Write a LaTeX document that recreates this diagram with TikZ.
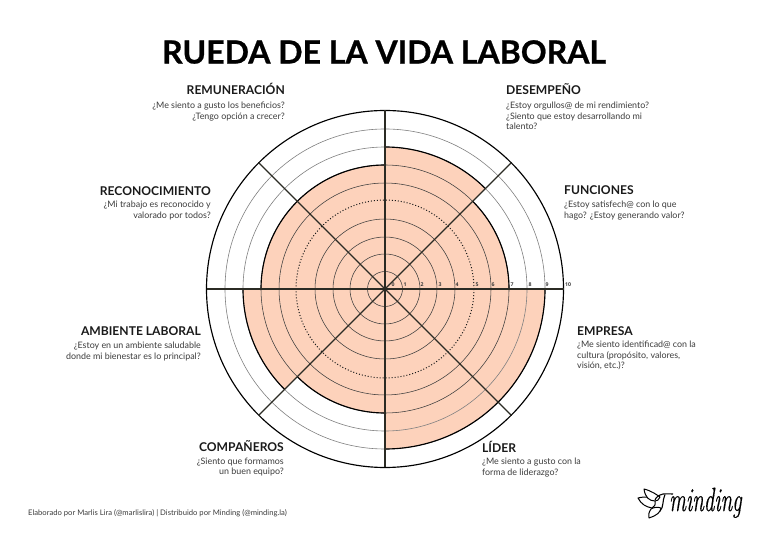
\documentclass[tikz,border=0pt]{standalone}
\usepackage{fontspec}
\setmainfont{Lato}
\newfontfamily\logofont[ItalicFeatures={FakeBold=0.5}]{Latin Modern Roman}
\newfontfamily\titlefont[BoldFeatures={FakeBold=0.7}]{Lato}
\newfontfamily\tickfont{Open Sans}
\definecolor{wedge}{HTML}{FDD2BB}
\definecolor{ink}{HTML}{1A1A1A}
\definecolor{spoke}{HTML}{2B2B24}
\tikzset{
  head/.style={inner sep=0pt,text=ink,font=\fontsize{12.1}{12.1}\selectfont\bfseries},
  bodytxt/.style={inner sep=0pt,text=ink!85,font=\fontsize{8.9}{10.3}\selectfont},
  bodyl/.style={bodytxt,align=left,anchor=north west},
  bodyr/.style={bodytxt,align=right,anchor=north east},
  tick/.style={inner sep=0pt,anchor=base,text=ink!85,font=\tickfont\fontsize{5.2}{5.2}\selectfont\bfseries},
  ring/.style={draw=ink!85,line width=.55pt},
  ringout/.style={draw=ink!55,line width=.6pt},
  edgearc/.style={draw=black,line width=1.15pt},
  spokeline/.style={draw=spoke,line width=1.25pt},
  petal/.style={draw=black,line width=1pt,line join=round,fill=white}
}
\newcommand{\wedgeshape}[3]{%
  \fill[wedge] (0,0) -- (#1:#3pt) arc[start angle=#1,end angle=#2,radius=#3pt] -- cycle;}
\newcommand{\wedgeedge}[3]{%
  \draw[edgearc] (#1:#3pt) arc[start angle=#1,end angle=#2,radius=#3pt];}
\begin{document}
\begin{tikzpicture}[x=1pt,y=1pt]
\useasboundingbox (0,0) rectangle (768,543);
\fill[white] (0,0) rectangle (768,543);
\begin{scope}[shift={(385,254)}]
  \wedgeshape{45}{90}{142}
  \wedgeshape{0}{45}{124}
  \wedgeshape{-45}{0}{160}
  \wedgeshape{-90}{-45}{160}
  \wedgeshape{-135}{-90}{124}
  \wedgeshape{180}{225}{142}
  \wedgeshape{135}{180}{124}
  \wedgeshape{90}{135}{124}
  \foreach \r in {17.5,35,52,70,106,124}{\draw[ring] (0,0) circle[radius=\r pt];}
  \foreach \r in {142,160}{\draw[ringout] (0,0) circle[radius=\r pt];}
  \draw[ink,line width=1pt,dotted] (0,0) circle[radius=89pt];
  \wedgeedge{45}{90}{142}
  \wedgeedge{0}{45}{124}
  \wedgeedge{-45}{0}{160}
  \wedgeedge{-90}{-45}{160}
  \wedgeedge{-135}{-90}{124}
  \wedgeedge{180}{225}{142}
  \wedgeedge{135}{180}{124}
  \wedgeedge{90}{135}{124}
  \draw[edgearc] (0,0) circle[radius=178.5pt];
  \coordinate (hub) at (0,0);
  \foreach \a in {0,45,...,315}{
    \coordinate (rim\a) at (\a:178.5pt);
    \draw[spokeline] (hub) -- (rim\a);
  }
\end{scope}
% scale numbers
\node[tick] (n0) at (393,256) {0};
\node[tick] (n1) at (405,256) {1};
\node[tick] (n2) at (422,256) {2};
\node[tick] (n3) at (440,256) {3};
\node[tick] (n4) at (457,256) {4};
\node[tick] (n5) at (477,256) {5};
\node[tick] (n6) at (493,256) {6};
\node[tick] (n7) at (512,256) {7};
\node[tick] (n8) at (530,256) {8};
\node[tick] (n9) at (547,256) {9};
\node[tick] (n10) at (568,256) {10};
% title
\node[inner sep=0pt,text=black,font=\titlefont\fontsize{32}{32}\selectfont\bfseries] (title) at (384,491) {RUEDA DE LA VIDA LABORAL};
% labels right
\node[head,anchor=base west] (hDes) at (506,448) {DESEMPEÑO};
\node[bodyl] (bDes) at (506,441) {¿Estoy orgullos@ de mi rendimiento?\\¿Siento que estoy desarrollando mi\\talento?};
\node[head,anchor=base west] (hFun) at (564,348) {FUNCIONES};
\node[bodyl] (bFun) at (564,342) {¿Estoy satisfech@ con lo que\\hago? ¿Estoy generando valor?};
\node[head,anchor=base west] (hEmp) at (577,207) {EMPRESA};
\node[bodyl] (bEmp) at (577,202) {¿Me siento identificad@ con la\\cultura (propósito, valores,\\visión, etc.)?};
\node[head,anchor=base west] (hLid) at (482,90) {LÍDER};
\node[bodyl] (bLid) at (482,85) {¿Me siento a gusto con la\\forma de liderazgo?};
% labels left
\node[head,anchor=base east] (hRem) at (285,448) {REMUNERACIÓN};
\node[bodyr] (bRem) at (285,441) {¿Me siento a gusto los beneficios?\\¿Tengo opción a crecer?};
\node[head,anchor=base east] (hRec) at (211,347) {RECONOCIMIENTO};
\node[bodyr] (bRec) at (211,342) {¿Mi trabajo es reconocido y\\valorado por todos?\hspace{2pt}};
\node[head,anchor=base east] (hAmb) at (201,207) {AMBIENTE LABORAL};
\node[bodyr] (bAmb) at (201,201) {¿Estoy en un ambiente saludable\\donde mi bienestar es lo principal?};
\node[head,anchor=base east] (hCom) at (284,91) {COMPAÑEROS};
\node[bodyr] (bCom) at (284,85) {¿Siento que formamos\\un buen equipo?};
% footer
\node[inner sep=0pt,anchor=west,text=ink!85,font=\fontsize{7.65}{8}\selectfont] (foot) at (28,30) {Elaborado por Marlis Lira (@marlislira) | Distribuido por Minding (@minding.la)};
% logo
\node[inner sep=0pt,anchor=base west,text=black,font=\logofont\itshape\fontsize{21}{21}\selectfont,yscale=1.6] (logo) at (669,32) {minding};
\draw[petal] (649,25) .. controls (656,27) and (661,31) .. (661,35) .. controls (658,36) and (654,36) .. (651,34) .. controls (649,31) and (648,28) .. cycle;
\draw[petal] (638,45) .. controls (646,47) and (652,46) .. (655,42) .. controls (656,38) and (654,36) .. (652,35) .. controls (646,36) and (641,39) .. cycle;
\draw[petal] (644,54) .. controls (652,52) and (657,48) .. (660,46) .. controls (659,43) and (657,42) .. (655,42) .. controls (649,42) and (645,46) .. cycle;
\draw[black,line width=1.1pt,line join=round] (673,49) .. controls (669,49) and (666,49.5) .. (663,49) .. controls (659,48) and (656,46) .. (655,43);
\draw[black,line width=1.1pt] (665,48.5) .. controls (662,42) and (664,36) .. (660,32);
\end{tikzpicture}
\end{document}
